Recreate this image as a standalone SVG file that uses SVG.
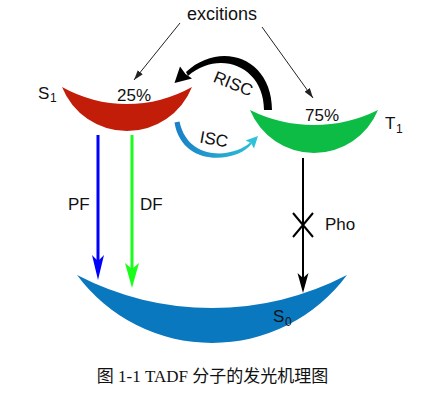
<svg xmlns="http://www.w3.org/2000/svg" width="440" height="400" viewBox="0 0 440 400">
<defs>
<style>
.lbl{font-family:"Liberation Sans",Arial,sans-serif;font-size:17px;fill:#111}
.sub{font-family:"Liberation Sans",Arial,sans-serif;font-size:12px;fill:#111}
.cap{font-family:"Liberation Serif","Noto Sans CJK SC",serif;font-size:17px;fill:#111}
</style>
<marker id="thin" markerUnits="userSpaceOnUse" markerWidth="12" markerHeight="8" refX="10" refY="4" orient="auto">
<path d="M0,0.8 L10,4 L0,7.2 Z" fill="#222"/>
</marker>
<linearGradient id="iscg" gradientUnits="userSpaceOnUse" x1="175" y1="140" x2="258" y2="140">
<stop offset="0" stop-color="#1a7fc8"/>
<stop offset="1" stop-color="#2ec3d6"/>
</linearGradient>
</defs>
<rect width="440" height="400" fill="#fff"/>

<g id="S0">
<path d="M77,275 A292.6,292.6 0 0 0 347,275 A168,168 0 0 1 77,275 Z" fill="#0a78bf"/>
<text class="lbl" x="273" y="322">S</text><text class="sub" x="285" y="326">0</text>
</g>

<g id="S1">
<path d="M62,87 A133,133 0 0 0 192,87 A70,70 0 0 1 62,87 Z" fill="#c21d08"/>
<text class="lbl" x="38" y="99">S</text><text class="sub" x="50" y="102">1</text>
<text class="lbl" x="117" y="101">25%</text>
</g>

<g id="T1">
<path d="M250,110 A144,144 0 0 0 378,110 A69.1,69.1 0 0 1 250,110 Z" fill="#0dbc45"/>
<text class="lbl" x="305" y="121">75%</text>
<text class="lbl" x="385" y="129">T</text><text class="sub" x="396" y="133">1</text>
</g>

<g id="excitions">
<text class="lbl" x="222" y="20" text-anchor="middle" style="font-size:18px">excitions</text>
</g>

<g id="connectors">
<line x1="180" y1="23" x2="134" y2="80" stroke="#222" stroke-width="1" marker-end="url(#thin)"/>
<line x1="262" y1="27" x2="313" y2="98" stroke="#222" stroke-width="1" marker-end="url(#thin)"/>

<!-- RISC -->
<path d="M272,110 C272,58 221,40 186,72 L188,76 C219,49 264,66 264,110 Z" fill="#000"/>
<path d="M174.5,83 L180,66.5 L185.5,74 L192,78.5 Z" fill="#000"/>
<text class="lbl" x="0" y="0" text-anchor="middle" transform="translate(231,89) rotate(22)">RISC</text>

<!-- ISC -->
<path d="M174.5,122.5 C182,168 237,163 251.7,143.7 L250.3,142.3 C234,158 188,162 179.5,121.5 Z" fill="url(#iscg)"/>
<path d="M258,136 L245.5,140.5 L251,143 L254,148.5 Z" fill="#2ec3d6"/>
<text class="lbl" x="0" y="0" text-anchor="middle" transform="translate(213,145) rotate(10)">ISC</text>

<!-- PF -->
<line x1="98" y1="135" x2="98" y2="262" stroke="#0000ff" stroke-width="3"/>
<path d="M98,280 L92,255 L98,261 L104,255 Z" fill="#0000ff"/>
<text class="lbl" x="68" y="210">PF</text>

<!-- DF -->
<line x1="132" y1="135" x2="132" y2="270" stroke="#1aff1a" stroke-width="3"/>
<path d="M132,288 L125,263 L132,269 L139,263 Z" fill="#1aff1a"/>
<text class="lbl" x="140" y="210">DF</text>

<!-- Pho -->
<line x1="303" y1="158" x2="303" y2="278" stroke="#000" stroke-width="2"/>
<path d="M303,293 L297.5,273 L303,278 L308.5,273 Z" fill="#000"/>
<path d="M293,213 L313,237 M313,213 L293,237" stroke="#000" stroke-width="2" fill="none"/>
<text class="lbl" x="325" y="230">Pho</text>
</g>

<text class="cap" x="212.5" y="382" text-anchor="middle">图 1-1 TADF 分子的发光机理图</text>
</svg>
